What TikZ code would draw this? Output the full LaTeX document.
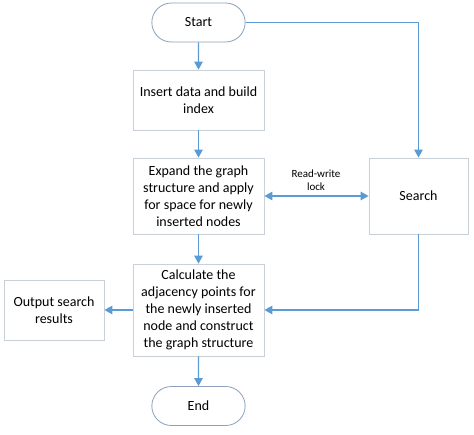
\documentclass[tikz,border=0pt]{standalone}
\usepackage{fontspec}
\setmainfont{Carlito}
\usetikzlibrary{arrows.meta,shapes.misc}
\definecolor{linec}{HTML}{5B9BD5}
\definecolor{boxc}{HTML}{C9D0D8}
\definecolor{ovalc}{HTML}{8AA0BB}
\begin{document}
\begin{tikzpicture}[x=1pt,y=-1pt,
  proc/.style={draw=boxc,line width=0.8pt,align=center,inner sep=2pt,font=\fontsize{14}{17}\selectfont},
  term/.style={draw=ovalc,line width=0.8pt,rounded rectangle,minimum width=100pt,minimum height=39pt,font=\fontsize{14}{17}\selectfont},
  conn/.style={draw=linec,line width=1.3pt,-{Triangle[length=8pt,width=8.5pt]}},
  lbl/.style={font=\fontsize{11}{13.5}\selectfont,align=center}]
\useasboundingbox (0,0) rectangle (474,434);
\node[term] (start) at (198.5,22.5) {Start};
\node[proc,minimum width=131pt,minimum height=60pt] (insert) at (198.5,100) {Insert data and build\\index};
\node[proc,minimum width=131pt,minimum height=76pt] (expand) at (198.5,196) {Expand the graph\\structure and apply\\for space for newly\\inserted nodes};
\node[proc,minimum width=99pt,minimum height=76pt] (search) at (418.5,196) {Search};
\node[proc,minimum width=131pt,minimum height=92pt] (calc) at (198.5,310) {Calculate the\\adjacency points for\\the newly inserted\\node and construct\\the graph structure};
\node[proc,minimum width=100pt,minimum height=60pt] (output) at (54,310) {Output search\\results};
\node[term] (end) at (198.5,406) {End};
\node[lbl] (rw) at (316,180) {Read-write\\lock};
\draw[conn] (start) -- (insert);
\draw[conn] (insert) -- (expand);
\draw[conn] (expand) -- (calc);
\draw[conn] (calc) -- (end);
\draw[conn] (calc) -- (output);
\draw[conn] (start.east) -| (search.north);
\draw[conn] (search.south) |- (calc.east);
\draw[conn,{Triangle[length=8pt,width=8.5pt]}-{Triangle[length=8pt,width=8.5pt]}] (expand.east) -- (search.west);
\end{tikzpicture}
\end{document}
